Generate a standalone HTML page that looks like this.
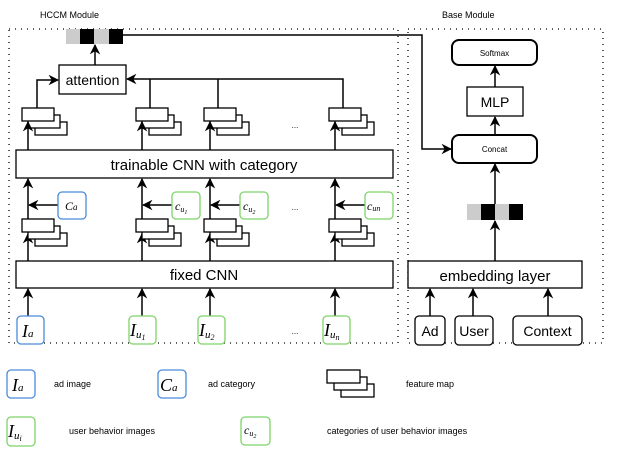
<!DOCTYPE html>
<html><head><meta charset="utf-8"><style>
body{margin:0;background:#fff}
svg{display:block}
text{font-family:"Liberation Sans",sans-serif;fill:#000}
.m{font-family:"Liberation Serif",serif;font-style:italic}
</style></head><body>
<svg width="617" height="453" viewBox="0 0 617 453" xmlns="http://www.w3.org/2000/svg">
<defs>
<marker id="a" viewBox="0 0 10 10" refX="9" refY="5" markerWidth="7" markerHeight="7" orient="auto"><path d="M0,0 L10,5 L0,10 L3,5 z" fill="#000"/></marker>
<g id="fm" fill="#fff" stroke="#000" stroke-width="1.3"><rect x="13" y="14" width="32" height="13"/><rect x="6" y="7" width="32" height="13"/><rect x="0" y="0" width="32" height="13"/></g>
</defs>
<g fill="none" stroke="#000" stroke-width="1.3" stroke-dasharray="1,5">
<rect x="9" y="29" width="389" height="314"/>
<rect x="408" y="29" width="195" height="314"/>
</g>
<text x="40" y="18" font-size="9">HCCM Module</text>
<text x="442" y="18" font-size="9">Base Module</text>
<!-- top vector -->
<rect x="66" y="29" width="14" height="15" fill="#ccc"/><rect x="80" y="29" width="14" height="15" fill="#000"/><rect x="94" y="29" width="15" height="15" fill="#ccc"/><rect x="109" y="29" width="14" height="15" fill="#000"/>
<g stroke="#000" stroke-width="1.5" fill="none">
<path d="M123,35 H422 V149 H451" marker-end="url(#a)"/>
<path d="M95,65 V45" marker-end="url(#a)"/>
<path d="M37,108 V80 H58" marker-end="url(#a)"/>
<path d="M343,108 V79 H127" marker-end="url(#a)"/>
<path d="M150,108 V79 M218,108 V79"/>
</g>
<rect x="59" y="65" width="67" height="29" fill="#fff" stroke="#000" stroke-width="1.3"/>
<text x="92.5" y="85" font-size="14" text-anchor="middle">attention</text>
<use href="#fm" x="22" y="108"/><use href="#fm" x="136" y="108"/><use href="#fm" x="204" y="108"/><use href="#fm" x="329" y="108"/>
<text x="295" y="128" font-size="8" text-anchor="middle">...</text>
<g stroke="#000" stroke-width="1.5" fill="none">
<path d="M28,150 V122" marker-end="url(#a)"/><path d="M142,150 V122" marker-end="url(#a)"/><path d="M210,150 V122" marker-end="url(#a)"/><path d="M335,150 V122" marker-end="url(#a)"/>
</g>
<rect x="16" y="150" width="377" height="28" fill="#fff" stroke="#000" stroke-width="1.3"/>
<text x="204" y="170" font-size="15" text-anchor="middle">trainable CNN with category</text>
<!-- lower -->
<g stroke="#000" stroke-width="1.5" fill="none">
<path d="M28,219 V179" marker-end="url(#a)"/><path d="M142,219 V179" marker-end="url(#a)"/><path d="M210,219 V179" marker-end="url(#a)"/><path d="M335,219 V179" marker-end="url(#a)"/>
<path d="M58,205 H29" marker-end="url(#a)"/><path d="M172,205 H143" marker-end="url(#a)"/><path d="M240,205 H211" marker-end="url(#a)"/><path d="M365,205 H336" marker-end="url(#a)"/>
<path d="M28,261 V234" marker-end="url(#a)"/><path d="M142,261 V234" marker-end="url(#a)"/><path d="M210,261 V234" marker-end="url(#a)"/><path d="M335,261 V234" marker-end="url(#a)"/>
<path d="M28,316 V289" marker-end="url(#a)"/><path d="M142,316 V289" marker-end="url(#a)"/><path d="M210,316 V289" marker-end="url(#a)"/><path d="M335,316 V289" marker-end="url(#a)"/>
</g>
<use href="#fm" x="22" y="219"/><use href="#fm" x="136" y="219"/><use href="#fm" x="204" y="219"/><use href="#fm" x="329" y="219"/>
<g fill="#fff" stroke-width="1.3">
<rect x="58" y="192" width="28" height="27" rx="4" stroke="#4a8ad8"/>
<rect x="172" y="192" width="28" height="27" rx="4" stroke="#7ed46a"/>
<rect x="240" y="192" width="28" height="27" rx="4" stroke="#7ed46a"/>
<rect x="365" y="192" width="28" height="27" rx="4" stroke="#7ed46a"/>
</g>
<text class="m" x="65" y="210" font-size="12">C<tspan font-size="9">a</tspan></text>
<text class="m" x="175" y="210" font-size="12">c<tspan font-size="8" dy="2">u<tspan font-size="6" dy="2">1</tspan></tspan></text>
<text class="m" x="243" y="210" font-size="12">c<tspan font-size="8" dy="2">u<tspan font-size="6" dy="2">2</tspan></tspan></text>
<text class="m" x="367" y="210" font-size="12">c<tspan font-size="8" dy="1">un</tspan></text>
<text x="295" y="210" font-size="8" text-anchor="middle">...</text>
<rect x="16" y="261" width="377" height="27" fill="#fff" stroke="#000" stroke-width="1.3"/>
<text x="204" y="280" font-size="15" text-anchor="middle">fixed CNN</text>
<g fill="#fff" stroke-width="1.3">
<rect x="17" y="316" width="27" height="28" rx="4" stroke="#4a8ad8"/>
<rect x="129" y="316" width="27" height="28" rx="4" stroke="#7ed46a"/>
<rect x="198" y="316" width="27" height="28" rx="4" stroke="#7ed46a"/>
<rect x="323" y="316" width="27" height="28" rx="4" stroke="#7ed46a"/>
</g>
<text class="m" x="22" y="337" font-size="18">I<tspan font-size="11">a</tspan></text>
<text class="m" x="130" y="336" font-size="18">I<tspan font-size="11" dy="2">u<tspan font-size="8" dy="2">1</tspan></tspan></text>
<text class="m" x="199" y="336" font-size="18">I<tspan font-size="11" dy="2">u<tspan font-size="8" dy="2">2</tspan></tspan></text>
<text class="m" x="324" y="336" font-size="18">I<tspan font-size="11" dy="2">u<tspan font-size="8" dy="2">n</tspan></tspan></text>
<text x="295" y="334" font-size="8" text-anchor="middle">...</text>
<!-- right -->
<g stroke="#000" stroke-width="1.5" fill="none">
<path d="M495,87 V66" marker-end="url(#a)"/><path d="M495,135 V117" marker-end="url(#a)"/>
<path d="M495,204 V164" marker-end="url(#a)"/><path d="M495,261 V221" marker-end="url(#a)"/>
<path d="M430,316 V289" marker-end="url(#a)"/><path d="M473,316 V289" marker-end="url(#a)"/><path d="M548,316 V289" marker-end="url(#a)"/>
</g>
<rect x="452" y="40" width="85" height="25" rx="7" fill="#fff" stroke="#000" stroke-width="2"/>
<text x="494.5" y="56" font-size="8" text-anchor="middle">Softmax</text>
<rect x="467" y="87" width="56" height="29" fill="#fff" stroke="#000" stroke-width="1.3"/>
<text x="495" y="107" font-size="14" text-anchor="middle">MLP</text>
<rect x="452" y="135" width="85" height="28" rx="7" fill="#fff" stroke="#000" stroke-width="2"/>
<text x="494.5" y="152" font-size="8" text-anchor="middle">Concat</text>
<rect x="467" y="204" width="14" height="16" fill="#ccc"/><rect x="481" y="204" width="14" height="16" fill="#000"/><rect x="495" y="204" width="14" height="16" fill="#ccc"/><rect x="509" y="204" width="14" height="16" fill="#000"/>
<rect x="408" y="261" width="174" height="27" fill="#fff" stroke="#000" stroke-width="1.3"/>
<text x="495" y="281" font-size="15" text-anchor="middle">embedding layer</text>
<g fill="#fff" stroke="#000" stroke-width="1.3">
<rect x="415" y="316" width="30" height="29" rx="4"/><rect x="455" y="316" width="38" height="29" rx="4"/><rect x="513" y="316" width="69" height="29" rx="4"/>
</g>
<text x="430" y="336" font-size="14" text-anchor="middle">Ad</text>
<text x="474" y="336" font-size="14" text-anchor="middle">User</text>
<text x="547.5" y="336" font-size="14" text-anchor="middle">Context</text>
<!-- legend -->
<rect x="7" y="370" width="28" height="28" rx="4" fill="#fff" stroke="#4a8ad8" stroke-width="1.3"/>
<text class="m" x="12" y="391" font-size="18">I<tspan font-size="11">a</tspan></text>
<text x="54" y="387" font-size="9">ad image</text>
<rect x="158" y="370" width="28" height="28" rx="4" fill="#fff" stroke="#4a8ad8" stroke-width="1.3"/>
<text class="m" x="160" y="391" font-size="18">C<tspan font-size="11">a</tspan></text>
<text x="208" y="387" font-size="9">ad category</text>
<g fill="#fff" stroke="#000" stroke-width="1.3"><rect x="341" y="384" width="33" height="13"/><rect x="334" y="377" width="33" height="13"/><rect x="327" y="370" width="33" height="13"/></g>
<text x="406" y="387" font-size="9">feature map</text>
<rect x="7" y="417" width="28" height="29" rx="4" fill="#fff" stroke="#7ed46a" stroke-width="1.3"/>
<text class="m" x="8" y="437" font-size="18">I<tspan font-size="11" dy="2">u<tspan font-size="8" dy="2">i</tspan></tspan></text>
<text x="69" y="434" font-size="9">user behavior images</text>
<rect x="241" y="417" width="29" height="28" rx="4" fill="#fff" stroke="#7ed46a" stroke-width="1.3"/>
<text class="m" x="244" y="434" font-size="12">c<tspan font-size="8" dy="2">u<tspan font-size="6" dy="2">2</tspan></tspan></text>
<text x="327" y="434" font-size="9">categories of user behavior images</text>
</svg>
</body></html>
